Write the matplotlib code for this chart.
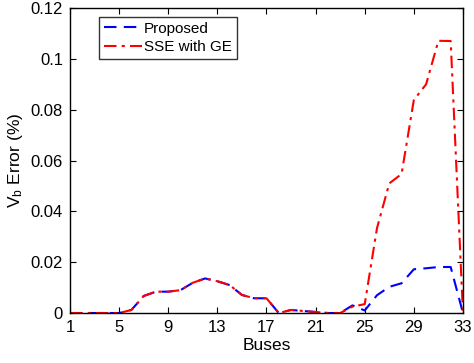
"""Bus voltage error: proposed vs SSE with GE."""
import matplotlib

matplotlib.use("Agg")
import matplotlib.pyplot as plt

BUSES = list(range(1, 34))
PROPOSED = [
    0, 0, 0, 0, 0, 0.0012, 0.0067, 0.0084, 0.0084, 0.0090,
    0.0119, 0.0136, 0.0125, 0.0110, 0.0071, 0.0058, 0.0058, 0.0,
    0.0012, 0.0008, 0.0004, 0.0, 0.0, 0.0030, 0.0010, 0.0070,
    0.0103, 0.0117, 0.0172, 0.0176, 0.0181, 0.0181, 0.0,
]
SSE_GE = [
    0, 0, 0, 0, 0, 0.0012, 0.0067, 0.0084, 0.0084, 0.0090,
    0.0119, 0.0136, 0.0125, 0.0110, 0.0071, 0.0058, 0.0058, 0.0,
    0.0012, 0.0008, 0.0004, 0.0, 0.0, 0.0025, 0.0035, 0.0334,
    0.0510, 0.0547, 0.0838, 0.0900, 0.1071, 0.1070, 0.0,
]
X_TICKS = [1, 5, 9, 13, 17, 21, 25, 29, 33]
Y_TICKS = [0, 0.02, 0.04, 0.06, 0.08, 0.1, 0.12]
Y_TICK_LABELS = ["0", "0.02", "0.04", "0.06", "0.08", "0.1", "0.12"]

if __name__ == "__main__":
    plt.rcParams["font.family"] = ["Liberation Sans", "DejaVu Sans"]
    plt.rcParams["mathtext.fontset"] = "custom"
    plt.rcParams["mathtext.rm"] = "Liberation Sans"
    plt.rcParams["mathtext.it"] = "Liberation Sans"

    fig = plt.figure(figsize=(4.74, 3.63), dpi=100)
    ax = fig.add_axes([0.1477, 0.1377, 0.829, 0.8403])

    ax.plot(BUSES, PROPOSED, linestyle=(0, (6, 3.5)), color="#0000ff",
            linewidth=1.5, label="Proposed")
    ax.plot(BUSES, SSE_GE, linestyle=(0, (6, 2.5, 1.5, 2.5)), color="#ff0000",
            linewidth=1.5, label="SSE with GE")

    ax.set_xlim(1, 33)
    ax.set_ylim(0, 0.12)
    ax.set_xticks(X_TICKS)
    ax.set_yticks(Y_TICKS)
    ax.set_yticklabels(Y_TICK_LABELS)
    ax.tick_params(direction="in", top=True, right=True, labelsize=12,
                   length=4, width=0.8, pad=5)
    for spine in ax.spines.values():
        spine.set_linewidth(1.0)

    ax.set_xlabel("Buses", fontsize=12.5, labelpad=2)
    ax.set_ylabel(r"V$_\mathrm{b}$ Error (%)", fontsize=12.5, labelpad=4)

    leg = ax.legend(loc="upper left", bbox_to_anchor=(0.074, 0.97),
                    fontsize=11, frameon=True, fancybox=False,
                    edgecolor="black", handlelength=2.5, borderpad=0.3,
                    labelspacing=0.3, handletextpad=0.15, borderaxespad=0)
    leg.get_frame().set_linewidth(1.0)

    plt.savefig("out.png", dpi=100)
